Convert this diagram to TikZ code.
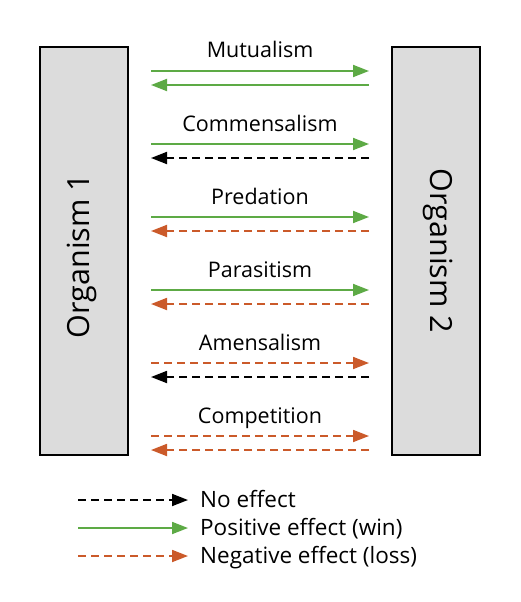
\documentclass[tikz,border=0pt]{standalone}
\usepackage{fontspec}
\setmainfont{Open Sans}
\usetikzlibrary{arrows.meta}
\definecolor{posgreen}{HTML}{5DAA45}
\definecolor{negred}{HTML}{CB5A2A}
\definecolor{boxgray}{HTML}{DCDCDC}
\tikzset{
  organism/.style={draw=black, line width=1.3pt, fill=boxgray, minimum width=88pt, minimum height=408pt, inner sep=0pt},
  orglabel/.style={font=\fontsize{30.5}{36}\selectfont},
  rellabel/.style={font=\fontsize{21.5}{26}\selectfont, inner sep=0pt, anchor=base},
  effarrow/.style={line width=1.8pt},
  posarr/.style={effarrow, draw=posgreen, -{Triangle[length=16pt,width=12pt,fill=posgreen]}},
  negarr/.style={effarrow, draw=negred, dash pattern=on 8pt off 5pt, -{Triangle[length=16pt,width=12pt,fill=negred]}},
  nonearr/.style={effarrow, draw=black, dash pattern=on 8pt off 5pt, -{Triangle[length=16pt,width=12pt,fill=black]}},
  legtext/.style={font=\fontsize{22.5}{27}\selectfont, anchor=base west, inner sep=0pt}
}
\begin{document}
\begin{tikzpicture}[x=1pt,y=-1pt]
\useasboundingbox (0,0) rectangle (520,602);
\node[organism] (o1) at (84,251) {};
\node[organism] (o2) at (436,251) {};
\node[orglabel, rotate=90] (l1) at (82,256) {Organism 1};
\node[orglabel, rotate=-90] (l2) at (438,251) {Organism 2};

% relation rows
\foreach \name/\lab/\y/\top/\bot in {
  mut/Mutualism/71/posarr/posarr,
  com/Commensalism/144/posarr/nonearr,
  pre/Predation/217/posarr/negarr,
  par/Parasitism/290/posarr/negarr,
  ame/Amensalism/363/negarr/nonearr,
  cmp/Competition/436/negarr/negarr}{
  \coordinate (\name-a1) at (151,\y);
  \coordinate (\name-b1) at (369,\y);
  \coordinate (\name-a2) at (151,\y+14);
  \coordinate (\name-b2) at (369,\y+14);
  \node[rellabel] (\name-l) at (260,\y-13) {\lab};
  \draw[\top] (\name-a1) -- (\name-b1);
  \draw[\bot] (\name-b2) -- (\name-a2);
}

% legend
\coordinate (n1) at (78,500);
\coordinate (n2) at (188,500);
\coordinate (p1) at (78,528);
\coordinate (p2) at (188,528);
\coordinate (g1) at (78,556);
\coordinate (g2) at (188,556);
\draw[nonearr] (n1) -- (n2);
\draw[posarr] (p1) -- (p2);
\draw[negarr] (g1) -- (g2);
\node[legtext] (nt) at (200,507) {No effect};
\node[legtext] (pt) at (200,535) {Positive effect (win)};
\node[legtext] (gt) at (200,563) {Negative effect (loss)};
\end{tikzpicture}
\end{document}
